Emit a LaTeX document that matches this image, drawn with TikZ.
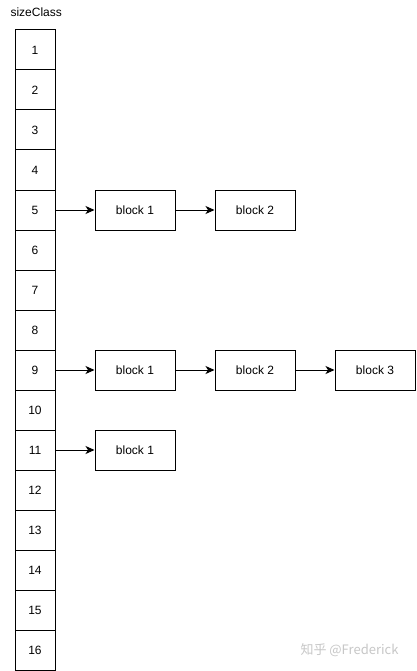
\documentclass[tikz,border=0pt]{standalone}
\usepackage{fontspec}
\setmainfont{Liberation Sans}
\newfontfamily\cjk{Noto Sans CJK SC}
\usetikzlibrary{arrows.meta}
\begin{document}
\begin{tikzpicture}[x=1pt,y=-1pt,
  cell/.style={draw,line width=1pt,minimum width=40pt,minimum height=40pt,inner sep=0pt,font=\fontsize{12}{14}\selectfont},
  blockbox/.style={draw,line width=1pt,minimum width=80pt,minimum height=40pt,inner sep=0pt,font=\fontsize{12}{14}\selectfont},
  link/.style={line width=1pt,-{Stealth[length=9pt,width=8pt,inset=2.5pt]}}]
\useasboundingbox (0,0) rectangle (416,671);
\fill[white] (0,0) rectangle (416,671);
\node[anchor=west,font=\fontsize{12}{14}\selectfont] (title) at (7,12) {sizeClass};
\foreach \i in {1,...,16} {
  \node[cell] (c\i) at (35,{10+40*\i}) {\i};
}
\node[blockbox] (a1) at (135,210) {block 1};
\node[blockbox] (a2) at (255,210) {block 2};
\node[blockbox] (b1) at (135,370) {block 1};
\node[blockbox] (b2) at (255,370) {block 2};
\node[blockbox] (b3) at (375,370) {block 3};
\node[blockbox] (d1) at (135,450) {block 1};
\draw[link] (c5) -- (a1);
\draw[link] (a1) -- (a2);
\draw[link] (c9) -- (b1);
\draw[link] (b1) -- (b2);
\draw[link] (b2) -- (b3);
\draw[link] (c11) -- (d1);
\node[anchor=west,text=black!22,font=\fontsize{13}{15}\cjk] (wm) at (297,650) {知乎 @Frederick};
\end{tikzpicture}
\end{document}
